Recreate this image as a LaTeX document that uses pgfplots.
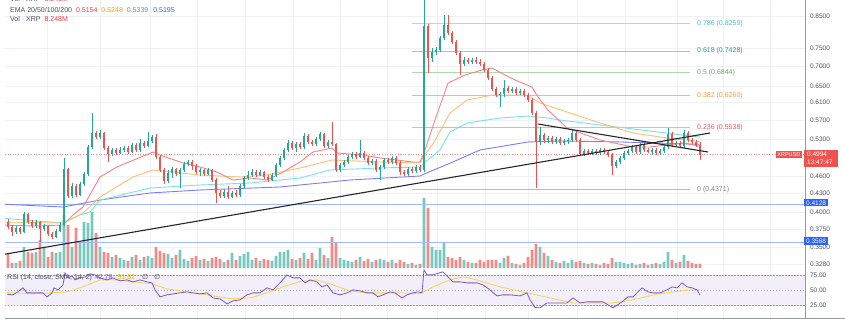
\documentclass[border=0pt]{standalone}
\usepackage{pgfplots}
\pgfplotsset{compat=1.18}
\usepackage{pgfplotstable}
\usepackage{fontspec}
\setmainfont{Liberation Sans}
\newfontfamily\dejavu{DejaVu Sans}
\definecolor{upc}{RGB}{38,166,154}
\definecolor{dnc}{RGB}{239,83,80}
\definecolor{emaR}{RGB}{242,54,69}
\definecolor{emaO}{RGB}{255,152,0}
\definecolor{emaC}{RGB}{0,188,212}
\definecolor{emaB}{RGB}{41,98,255}
\definecolor{ema20}{RGB}{245,130,135}
\definecolor{ema50}{RGB}{255,190,110}
\definecolor{ema100}{RGB}{120,225,238}
\definecolor{ema200}{RGB}{125,125,245}
\definecolor{gridc}{RGB}{238,241,248}
\definecolor{bordc}{RGB}{150,153,162}
\definecolor{txtc}{RGB}{75,78,90}
\definecolor{fib786}{RGB}{70,190,215}
\definecolor{fib618}{RGB}{38,160,140}
\definecolor{fib5}{RGB}{90,180,90}
\definecolor{fib382}{RGB}{245,155,50}
\definecolor{fib236}{RGB}{240,85,90}
\definecolor{fib0}{RGB}{130,130,140}
\definecolor{hblue}{RGB}{41,98,255}
\definecolor{rsic}{RGB}{126,87,194}
\definecolor{smac}{RGB}{245,215,70}
\definecolor{smat}{RGB}{215,185,30}
\definecolor{rsiband}{RGB}{243,239,250}

\pgfplotstableread{
i o h l c v
0 .3855 .3900 .3753 .3782 30
1 .3782 .3811 .3653 .3710 10
2 .3710 .3796 .3681 .3767 10
3 .3767 .3782 .3681 .3710 14
4 .3710 .4005 .3695 .3975 42
5 .3975 .3990 .3825 .3855 32
6 .3855 .3884 .3767 .3796 30
7 .3796 .3884 .3767 .3855 32
8 .3855 .3869 .3570 .3753 56
9 .3753 .3825 .3724 .3796 42
10 .3796 .3811 .3653 .3681 22
11 .3681 .3710 .3611 .3639 32
12 .3639 .3753 .3625 .3724 30
13 .3724 .3855 .3710 .3811 32
14 .3811 .4928 .3796 .4725 106
15 .4725 .4743 .4227 .4259 86
16 .4259 .4477 .4227 .4426 42
17 .4426 .4460 .4243 .4276 80
18 .4276 .4494 .4259 .4460 50
19 .4460 .4670 .4426 .4635 92
20 .4635 .5180 .4599 .5141 90
21 .5141 .5857 .5101 .5425 112
22 .5425 .5466 .5301 .5342 70
23 .5342 .5487 .5301 .5425 42
24 .5425 .5445 .5082 .5121 32
25 .5121 .5160 .4853 .5004 30
26 .5004 .5121 .4966 .5082 22
27 .5082 .5121 .4985 .5024 26
28 .5024 .5141 .5004 .5082 20
29 .5082 .5160 .5043 .5121 16
30 .5121 .5160 .5004 .5043 14
31 .5043 .5220 .5024 .5180 22
32 .5180 .5220 .5043 .5082 26
33 .5082 .5301 .5043 .5220 16
34 .5220 .5261 .5121 .5160 22
35 .5160 .5445 .5141 .5261 24
36 .5261 .5383 .5220 .5342 20
37 .5342 .5404 .4909 .4947 42
38 .4947 .4985 .4670 .4706 34
39 .4706 .4743 .4460 .4512 30
40 .4512 .4706 .4477 .4652 28
41 .4652 .4761 .4564 .4725 20
42 .4725 .4743 .4599 .4635 26
43 .4635 .4743 .4392 .4706 36
44 .4706 .4853 .4670 .4816 18
45 .4816 .4891 .4779 .4853 14
46 .4853 .4891 .4706 .4779 20
47 .4779 .4816 .4635 .4670 24
48 .4670 .4743 .4599 .4706 16
49 .4706 .4725 .4599 .4635 18
50 .4635 .4743 .4617 .4706 14
51 .4706 .4725 .4494 .4529 20
52 .4529 .4564 .4146 .4309 22
53 .4309 .4359 .4227 .4259 18
54 .4259 .4375 .4227 .4325 12
55 .4325 .4426 .4211 .4243 16
56 .4243 .4342 .4227 .4309 30
57 .4309 .4359 .4243 .4276 16
58 .4276 .4460 .4243 .4426 24
59 .4426 .4599 .4392 .4564 28
60 .4564 .4688 .4529 .4617 32
61 .4617 .4725 .4582 .4670 16
62 .4670 .4706 .4582 .4617 20
63 .4617 .4706 .4599 .4670 14
64 .4670 .4688 .4547 .4582 18
65 .4582 .4617 .4494 .4529 16
66 .4529 .4652 .4512 .4617 14
67 .4617 .4835 .4582 .4798 24
68 .4798 .4966 .4761 .4928 32
69 .4928 .5121 .4891 .5082 32
70 .5082 .5281 .5043 .5220 36
71 .5220 .5261 .5082 .5121 18
72 .5121 .5241 .5043 .5200 16
73 .5200 .5241 .5101 .5141 20
74 .5141 .5425 .5101 .5362 30
75 .5362 .5404 .5200 .5241 18
76 .5241 .5281 .5160 .5200 30
77 .5200 .5342 .5160 .5301 16
78 .5301 .5445 .5261 .5404 40
79 .5404 .5425 .5121 .5160 26
80 .5160 .5281 .5121 .5241 20
81 .5241 .5658 .5160 .5200 62
82 .5200 .5220 .4670 .4706 50
83 .4706 .4835 .4670 .4798 20
84 .4798 .4891 .4761 .4853 16
85 .4853 .4985 .4816 .4947 14
86 .4947 .5043 .4909 .5004 12
87 .5004 .5043 .4909 .4947 16
88 .4947 .5281 .4928 .5024 22
89 .5024 .5062 .4891 .4928 14
90 .4928 .4966 .4798 .4835 18
91 .4835 .4909 .4798 .4872 12
92 .4872 .4909 .4670 .4706 16
93 .4706 .4798 .4529 .4761 18
94 .4761 .4928 .4725 .4891 16
95 .4891 .4928 .4816 .4853 12
96 .4853 .4966 .4816 .4928 16
97 .4928 .4966 .4798 .4835 10
98 .4835 .4872 .4617 .4670 16
99 .4670 .4706 .4599 .4635 12
100 .4635 .4761 .4599 .4725 8
101 .4725 .4761 .4652 .4688 10
102 .4688 .4798 .4652 .4761 6
103 .4761 .4798 .4670 .4706 8
104 .4706 .9500 .4670 .8180 140
105 .8180 .8243 .6830 .7234 120
106 .7234 .7518 .7124 .7403 42
107 .7403 .7547 .7318 .7460 36
108 .7460 .7872 .7403 .7812 36
109 .7812 .8533 .7752 .8211 52
110 .8211 .8533 .7902 .7963 22
111 .7963 .8024 .7634 .7693 20
112 .7693 .7752 .7318 .7375 16
113 .7375 .7431 .6777 .7070 22
114 .7070 .7262 .7016 .7179 16
115 .7179 .7234 .7070 .7124 12
116 .7124 .7234 .7070 .7179 10
117 .7179 .7262 .7070 .7124 10
118 .7124 .7207 .7016 .7070 16
119 .7070 .7124 .6856 .6909 12
120 .6909 .6962 .6649 .6700 16
121 .6700 .6751 .6374 .6423 16
122 .6423 .6472 .6229 .6277 16
123 .6277 .6349 .5994 .6301 10
124 .6301 .6649 .6229 .6447 20
125 .6447 .6497 .6325 .6374 24
126 .6374 .6472 .6325 .6423 10
127 .6423 .6472 .6277 .6325 8
128 .6325 .6423 .6277 .6374 6
129 .6374 .6423 .6229 .6277 10
130 .6277 .6325 .6110 .6157 22
131 .6157 .6205 .5813 .5857 36
132 .5857 .5903 .4392 .5241 48
133 .5241 .5551 .5180 .5383 42
134 .5383 .5425 .5220 .5281 30
135 .5281 .5362 .5220 .5322 24
136 .5322 .5362 .5200 .5241 16
137 .5241 .5342 .5200 .5301 12
138 .5301 .5342 .5180 .5220 10
139 .5220 .5301 .5180 .5261 14
140 .5261 .5322 .5200 .5281 10
141 .5281 .5487 .5241 .5425 16
142 .5425 .5466 .5241 .5281 12
143 .5281 .5322 .4966 .5004 14
144 .5004 .5101 .4966 .5062 10
145 .5062 .5101 .4985 .5024 8
146 .5024 .5101 .4985 .5062 10
147 .5062 .5101 .4985 .5024 8
148 .5024 .5121 .4985 .5082 6
149 .5082 .5121 .5004 .5043 10
150 .5043 .5082 .4947 .4985 8
151 .4985 .5024 .4617 .4779 20
152 .4779 .4891 .4743 .4853 12
153 .4853 .4966 .4816 .4928 12
154 .4928 .5062 .4891 .5024 10
155 .5024 .5101 .4985 .5062 8
156 .5062 .5180 .5024 .5141 10
157 .5141 .5180 .5004 .5043 6
158 .5043 .5220 .5004 .5180 8
159 .5180 .5220 .5043 .5082 10
160 .5082 .5121 .5024 .5043 6
161 .5043 .5121 .4985 .5082 8
162 .5082 .5121 .4985 .5024 10
163 .5024 .5101 .4985 .5062 8
164 .5062 .5180 .5024 .5141 12
165 .5141 .5530 .5101 .5404 32
166 .5404 .5445 .5141 .5180 16
167 .5180 .5261 .5141 .5220 10
168 .5220 .5261 .5121 .5160 12
169 .5160 .5487 .5121 .5425 26
170 .5425 .5466 .5241 .5281 14
171 .5281 .5322 .5200 .5241 10
172 .5241 .5281 .5141 .5180 8
173 .5180 .5241 .4891 .4994 8.248
}\candles

\pgfplotstableread{
i p
-2 .3811
6.25 .3796
13.75 .3811
16.25 .3960
18.75 .4083
23 .4582
27.25 .4761
36.25 .5043
38 .4985
43.75 .4835
48 .4761
52.25 .4670
56.25 .4529
60.5 .4564
64.75 .4529
68.75 .4670
73 .4853
76.25 .5043
81 .5121
82.25 .5024
88.75 .4985
93 .4928
101.25 .4853
103 .4853
104 .5024
106.75 .5702
110 .6572
114.25 .6777
118.5 .6909
121 .6962
124.25 .6777
126.75 .6649
131 .6472
132.5 .6229
135 .5925
139.75 .5530
148 .5281
156.25 .5141
160.5 .5141
164.75 .5180
168.75 .5220
173 .5154
}\emaA

\pgfplotstableread{
i p
-2 .3855
13.75 .3840
18.75 .3990
23 .4243
31.25 .4582
36.25 .4706
48 .4617
58 .4582
64.75 .4617
73 .4743
81 .4891
93 .4853
103 .4835
104 .4970
106.25 .5200
110.5 .5857
114.75 .6157
121.25 .6277
129.75 .6277
133 .6087
139.75 .5880
148 .5637
156.25 .5425
164.75 .5322
173 .5248
}\emaF

\pgfplotstableread{
i p
-2 .3914
13.75 .3840
18 .3960
20.5 .4005
23 .4194
35.5 .4392
48 .4443
60.5 .4477
73 .4564
80.5 .4706
93 .4743
103 .4761
104 .4830
108 .5082
110.5 .5445
114.75 .5637
123 .5746
130 .5790
135 .5746
138 .5702
148 .5594
160.5 .5466
173 .5339
}\emaH

\pgfplotstableread{
i p
-2 .4130
13.75 .4083
23 .4194
35.5 .4309
48 .4359
68 .4409
85.5 .4529
103 .4599
104 .4634
110.5 .4830
118 .5082
130 .5241
138 .5261
153 .5241
173 .5195
}\emaT

\pgfplotstableread{
i r
-0.25 44.0
1.25 42.9
2.5 48.3
3.75 54.5
4.75 46.2
7.5 46.2
8.75 46.2
9.75 39.6
11 46.2
11.5 54.5
12.5 51.2
13.75 59.4
14.25 79.3
15 71.0
16 74.3
16.75 67.7
18 71.0
19.25 72.7
20.5 77.7
21.75 76.0
23 71.0
24.75 67.7
26.25 71.0
28 66.1
29.75 67.7
31.25 64.4
33 67.7
34.75 64.4
36 62.8
36.75 51.2
38 39.6
39.75 42.9
41.25 44.5
43 46.2
44.75 47.8
46.25 46.2
48 44.5
49.75 46.2
51.25 37.9
53 36.3
54.75 28.0
56.25 32.9
58 34.6
59.75 42.9
61.25 46.2
63 46.2
64.75 54.5
66.25 51.2
68 62.8
69.75 76.0
71.25 71.0
73 71.0
74.25 62.8
75.5 67.7
77.25 64.4
78.5 56.1
79.75 59.4
81.25 46.2
83 42.9
84.75 46.2
86.25 51.2
88 49.5
89.75 46.2
91.25 46.2
92.5 39.6
93.75 42.9
95.5 47.8
96.75 46.2
98.5 37.9
99.75 42.9
101.25 46.2
102.5 47.8
103.5 46.2
104 84.3
104.75 76.0
106.25 76.0
108.75 81.0
110 72.7
111.25 64.4
113 64.4
114.75 62.8
117.25 62.8
118.75 59.4
120.5 51.2
122.25 41.2
123.75 42.9
125.5 42.9
128 41.2
129.75 46.2
130.5 34.6
131.75 22.0
133 21.4
134.75 29.6
137.25 29.6
139.75 29.6
141.25 37.9
143 29.6
144.75 31.3
148.75 31.3
151.25 21.4
153.5 31.3
155 39.6
156.25 39.6
158.5 54.5
160 47.8
161.25 46.2
163 46.2
164.75 51.2
166 56.1
167.25 54.5
168.5 62.8
169.75 56.1
171 54.5
172.25 51.2
173 42.78
}\rsi

\pgfplotstableread{
i r
-0.25 46.7
6.25 44.5
14.75 47.8
18.75 56.1
23 67.7
27.25 67.7
31.25 64.4
36 61.1
39.75 52.8
48 44.5
56.25 36.3
60.5 37.9
64.75 46.2
68.75 56.1
73 65.0
77.25 67.7
81.25 59.4
85.5 49.5
89.75 46.2
98 46.2
103 44.5
106.25 56.1
110.5 67.7
113.75 72.7
117.25 67.7
123 56.1
129.75 46.2
135.5 37.9
141.25 29.6
146.25 29.6
151.25 29.6
156.25 34.6
161.25 42.9
166.25 47.8
170.5 51.2
173 51.52
}\sma

\pgfplotsset{
  table/lnp/.style={x=i, y expr={ln(\thisrow{p})}},
  pane/.style={anchor=south west, scale only axis, width=800pt, xmin=-0.75, xmax=199.25},
  pricey/.style={ymin=-1.12989, ymax=-0.10110},
  gridx/.style={xtick={9.75,23,35.5,47.25,59.25,71.25,83,94.75,107.25,119.25,130,142.25,154.25,167.25,178.75,190.5}, xticklabels={}, xmajorgrids, major grid style={draw=gridc, line width=0.6pt}},
  ylab/.style={yticklabel pos=right, yticklabel style={anchor=west, font=\fontsize{6.5}{7}\selectfont, text=txtc, xshift=1.5pt}},
}

\begin{document}
\begin{tikzpicture}
\useasboundingbox (0,0) rectangle (845pt,321pt);
% grid and price scale
\begin{axis}[pane, pricey, at={(5pt,53pt)}, height=268pt, gridx, ymajorgrids,
  axis line style={draw=none}, tick style={draw=none}, ylab,
  ytick={-0.16252,-0.28768,-0.35667,-0.43078,-0.49430,-0.56212,-0.63488,-0.77653,-0.84397,-0.91629,-0.98083,-1.04982,-1.11474},
  yticklabels={0.8500,0.7500,0.7000,0.6500,0.6100,0.5700,0.5300,0.4600,0.4300,0.4000,0.3750,0.3500,0.3280}]
\addplot[draw=none] coordinates {(0,-0.5)};
\end{axis}
% volume
\begin{axis}[pane, at={(5pt,53pt)}, height=268pt, ymin=0, ymax=536, hide axis]
\addplot[ybar, bar width=2.8pt, bar shift=0pt, fill=upc!62!white, draw=none,
  restrict expr to domain={\thisrow{c}-\thisrow{o}}{0:1}] table[x=i, y=v]{\candles};
\addplot[ybar, bar width=2.8pt, bar shift=0pt, fill=dnc!68!white, draw=none,
  restrict expr to domain={\thisrow{c}-\thisrow{o}}{-1:-0.00001}] table[x=i, y=v]{\candles};
\end{axis}
% price
\begin{axis}[pane, pricey, at={(5pt,53pt)}, height=268pt, hide axis]
\addplot[hblue!45!white, line width=0.8pt] table[lnp, row sep=\\]{i p\\ -0.75 0.4128\\ 199.25 0.4128\\};
\addplot[hblue!45!white, line width=0.8pt] table[lnp, row sep=\\]{i p\\ -0.75 0.3568\\ 199.25 0.3568\\};
\addplot[dnc!70!white, dotted, line width=0.6pt] table[lnp, row sep=\\]{i p\\ -0.75 0.4994\\ 199.25 0.4994\\};
% fib levels
\addplot[fib786!50!white, line width=0.9pt] table[lnp, row sep=\\]{i p\\ 101 0.8259\\ 170.5 0.8259\\};
\addplot[fib618!50!white, line width=0.9pt] table[lnp, row sep=\\]{i p\\ 101 0.7428\\ 170.5 0.7428\\};
\addplot[fib5!50!white, line width=0.9pt] table[lnp, row sep=\\]{i p\\ 101 0.6844\\ 170.5 0.6844\\};
\addplot[fib382!70!white, line width=0.9pt] table[lnp, row sep=\\]{i p\\ 101 0.6260\\ 170.5 0.6260\\};
\addplot[fib236!50!white, line width=0.9pt] table[lnp, row sep=\\]{i p\\ 101 0.5538\\ 170.5 0.5538\\};
\addplot[fib0!55!white, line width=0.9pt] table[lnp, row sep=\\]{i p\\ 101 0.4371\\ 170.5 0.4371\\};
% EMAs
\addplot[ema200, line width=0.9pt] table[lnp]{\emaT};
\addplot[ema100, line width=0.9pt] table[lnp]{\emaH};
\addplot[ema50, line width=0.9pt] table[lnp]{\emaF};
\addplot[ema20, line width=0.9pt] table[lnp]{\emaA};
% candles
\addplot[draw=none, mark=none, restrict expr to domain={\thisrow{c}-\thisrow{o}}{0:1},
  error bars/.cd, y dir=both, y explicit, error mark=none, error bar style={draw=upc, line width=0.75pt}]
  table[x=i, y expr={0.5*(ln(\thisrow{h})+ln(\thisrow{l}))}, y error expr={0.5*(ln(\thisrow{h})-ln(\thisrow{l}))}]{\candles};
\addplot[draw=none, mark=none, restrict expr to domain={\thisrow{c}-\thisrow{o}}{-1:-0.00001},
  error bars/.cd, y dir=both, y explicit, error mark=none, error bar style={draw=dnc, line width=0.75pt}]
  table[x=i, y expr={0.5*(ln(\thisrow{h})+ln(\thisrow{l}))}, y error expr={0.5*(ln(\thisrow{h})-ln(\thisrow{l}))}]{\candles};
\addplot[draw=none, mark=none, restrict expr to domain={\thisrow{c}-\thisrow{o}}{0:1},
  error bars/.cd, y dir=both, y explicit, error mark=none, error bar style={draw=upc, line width=2.8pt}]
  table[x=i, y expr={0.5*(ln(\thisrow{o})+ln(\thisrow{c}))}, y error expr={0.5*abs(ln(\thisrow{c})-ln(\thisrow{o}))}]{\candles};
\addplot[draw=none, mark=none, restrict expr to domain={\thisrow{c}-\thisrow{o}}{-1:-0.00001},
  error bars/.cd, y dir=both, y explicit, error mark=none, error bar style={draw=dnc, line width=2.8pt}]
  table[x=i, y expr={0.5*(ln(\thisrow{o})+ln(\thisrow{c}))}, y error expr={0.5*abs(ln(\thisrow{c})-ln(\thisrow{o}))}]{\candles};
% trend lines
\addplot[black!85, line width=1.1pt] table[lnp, row sep=\\]{i p\\ -2 0.3396\\ 175.5 0.5425\\};
\addplot[black!85, line width=1.1pt] table[lnp, row sep=\\]{i p\\ 132.5 0.5615\\ 175 0.5043\\};
% fib labels
\begin{scope}[every node/.style={anchor=west, inner sep=0pt, font=\fontsize{7}{8}\selectfont}]
\node[text=fib786] at (axis cs:172.25,-0.19128) {0.786 (0.8259)};
\node[text=fib618] at (axis cs:172.25,-0.29733) {0.618 (0.7428)};
\node[text=fib5] at (axis cs:172.25,-0.37921) {0.5 (0.6844)};
\node[text=fib382] at (axis cs:172.25,-0.46840) {0.382 (0.6260)};
\node[text=fib236] at (axis cs:172.25,-0.59095) {0.236 (0.5538)};
\node[text=fib0] at (axis cs:172.25,-0.82759) {0 (0.4371)};
\end{scope}
\end{axis}
% RSI pane
\begin{axis}[pane, at={(5pt,3pt)}, height=50pt, ymin=4.6, ymax=87.4, gridx,
  axis line style={draw=none}, tick style={draw=none}, ylab,
  ytick={25,50,75}, yticklabels={25.00,50.00,75.00}]
\addplot[fill=rsiband, draw=none] coordinates {(-0.75,25) (199.25,25) (199.25,75) (-0.75,75)};
\addplot[black!40, dash pattern=on 1.5pt off 1.5pt, line width=0.6pt] coordinates {(-0.75,75) (199.25,75)};
\addplot[black!30, dash pattern=on 1pt off 2pt, line width=0.6pt] coordinates {(-0.75,50) (199.25,50)};
\addplot[black!40, dash pattern=on 1.5pt off 1.5pt, line width=0.6pt] coordinates {(-0.75,25) (199.25,25)};
\addplot[smac, line width=0.8pt] table[x=i, y=r]{\sma};
\addplot[rsic, line width=0.8pt] table[x=i, y=r]{\rsi};
\end{axis}
% frame
\draw[bordc, line width=0.7pt] (805pt,3pt) -- (805pt,321pt);
\draw[bordc, line width=0.7pt] (5pt,3pt) -- (845pt,3pt);
% legends
\begin{scope}[every node/.style={anchor=west, inner sep=0pt, font=\fontsize{7}{8}\selectfont}]
\node at (10pt,322pt) {\textcolor{txtc}{Vol · XRP}\hspace{4pt}\textcolor{emaR}{8.248M}};
\node at (10pt,311pt) {\textcolor{txtc}{EMA 20/50/100/200}\hspace{4pt}\textcolor{emaR}{0.5154}\hspace{4pt}\textcolor{emaO}{0.5248}\hspace{4pt}\textcolor{emaC}{0.5339}\hspace{5pt}\textcolor{emaB}{0.5195}};
\node at (10pt,302pt) {\textcolor{txtc}{Vol · XRP}\hspace{4pt}\textcolor{emaR}{8.248M}};
\node at (7pt,43pt) {\textcolor{txtc}{RSI (14, close, SMA, 14, 2)}\hspace{3pt}\textcolor{rsic}{42.78}\hspace{5pt}\textcolor{smat}{51.52}\hspace{7pt}\textcolor{txtc}{\dejavu ∅}\hspace{6pt}\textcolor{txtc}{\dejavu ∅}};
\end{scope}
% price scale boxes
\fill[dnc] (804pt,154pt) rectangle (838pt,171pt);
\node[anchor=west, inner sep=0pt, text=white, font=\fontsize{6.5}{7}\selectfont] at (807pt,167pt) {0.4994};
\node[anchor=west, inner sep=0pt, text=white, font=\fontsize{6.5}{7}\selectfont] at (807pt,159pt) {13:47:47};
\node[anchor=east, fill=dnc, text=white, inner xsep=1.5pt, inner ysep=1.2pt, font=\fontsize{5.5}{6}\selectfont] at (802pt,166.5pt) {XRPUSD};
\node[anchor=west, fill=hblue, text=white, inner xsep=2pt, inner ysep=1.2pt, font=\fontsize{6.5}{7}\selectfont] at (804pt,118pt) {0.4128};
\node[anchor=west, fill=hblue, text=white, inner xsep=2pt, inner ysep=1.2pt, font=\fontsize{6.5}{7}\selectfont] at (804pt,80pt) {0.3568};
\end{tikzpicture}
\end{document}
